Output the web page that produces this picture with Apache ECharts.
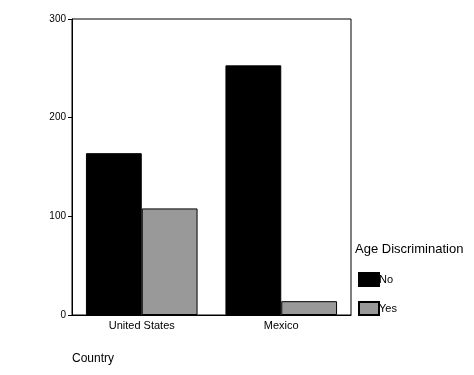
<!DOCTYPE html>
<html><head><meta charset="utf-8">
<script src="https://cdn.jsdelivr.net/npm/echarts@6/dist/echarts.min.js"></script>
<style>html,body{margin:0;padding:0;background:#fff}#c{width:474px;height:375px}</style>
</head><body><div id="c"></div>
<script>
const categories = ["United States", "Mexico"];
const seriesNames = ["No", "Yes"];
const noValues = [164, 253];
const yesValues = [108, 14];
const yTicks = [0, 100, 200, 300];
const legendTitle = "Age Discrimination";
const xAxisTitle = "Country";

const chart = echarts.init(document.getElementById('c'), null, {renderer: 'canvas'});
const font = 'Liberation Sans, Arial, sans-serif';
chart.setOption({
  animation: false,
  backgroundColor: '#fff',
  textStyle: {fontFamily: font},
  title: {
    text: legendTitle, left: 355, top: 243, padding: 0,
    textStyle: {fontFamily: font, fontSize: 13, fontWeight: 'normal', color: '#000'}
  },
  legend: {
    data: seriesNames, orient: 'vertical', left: 358, top: 272, padding: 0,
    itemWidth: 20, itemHeight: 13, itemGap: 14,
    textStyle: {fontFamily: font, fontSize: 11, color: '#000', padding: [6, 0, 0, -5]},
    icon: 'rect'
  },
  grid: {left: 72, right: 123, top: 19, bottom: 60, show: true, borderColor: '#000', borderWidth: 1},
  xAxis: {
    type: 'category', data: categories,
    name: xAxisTitle, nameLocation: 'start', nameGap: 0,
    nameTextStyle: {fontFamily: font, fontSize: 12, color: '#000', align: 'left', verticalAlign: 'top', padding: [38, 0, 0, 0]},
    axisLine: {lineStyle: {color: '#000', width: 1}},
    axisTick: {alignWithLabel: true, length: 4, lineStyle: {color: '#000'}},
    axisLabel: {fontFamily: font, fontSize: 11, color: '#000', margin: 5}
  },
  yAxis: {
    type: 'value', min: 0, max: 300, interval: 100,
    axisLine: {show: true, lineStyle: {color: '#000'}},
    axisTick: {show: true, length: 4, lineStyle: {color: '#000'}},
    axisLabel: {fontFamily: font, fontSize: 10, color: '#000', margin: 6,
      formatter: v => yTicks.includes(v) ? String(v) : ''},
    splitLine: {show: false}
  },
  series: [
    {name: seriesNames[0], type: 'bar', data: noValues, barGap: '0%', barCategoryGap: '20%',
     itemStyle: {color: '#000', borderColor: '#000', borderWidth: 1}},
    {name: seriesNames[1], type: 'bar', data: yesValues, barGap: '0%', barCategoryGap: '20%',
     itemStyle: {color: '#999', borderColor: '#000', borderWidth: 1}}
  ]
});
</script></body></html>
